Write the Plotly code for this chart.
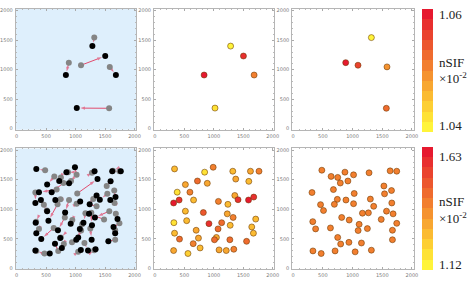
import plotly.graph_objects as go

W, H = 474, 285

# ---------------- data ----------------
# top row: 5 particles (initial -> final), nSIF x1e-2
top_init_x = [1317, 1092, 885, 1580, 1569]
top_init_y = [1544, 1076, 1120, 1048, 347]
top_final_x = [1285, 1503, 835, 1684, 1020]
top_final_y = [1400, 1232, 910, 910, 350]
top_final_nsif = [1.041, 1.058, 1.059, 1.050, 1.042]
top_init_nsif = [1.041, 1.056, 1.060, 1.049, 1.053]
top_range = [1.04, 1.06]

# bottom row: 50 particles, final positions
bot_final_x = [333, 844, 989, 1322, 1622, 1767, 1372, 722, 889, 517,
               1594, 378, 594, 1356, 656, 1078, 317, 411, 1411, 1589,
               1678, 1239, 517, 822, 1228, 1328, 1711, 539, 322, 917,
               1133, 1278, 1072, 700, 1644, 333, 1672, 417, 739, 1044,
               1011, 1272, 1556, 650, 767, 317, 561, 1089, 1211, 1339]
bot_final_y = [1683, 1628, 1711, 1644, 1644, 1644, 1511, 1478, 1439, 1417,
               1472, 1289, 1289, 1233, 1156, 1133, 1106, 1156, 1161, 1156,
               1206, 1083, 967, 944, 922, 861, 833, 806, 772, 756,
               772, 728, 667, 644, 700, 594, 594, 494, 511, 522,
               483, 483, 456, 417, 344, 300, 250, 311, 300, 322]
bot_final_nsif = [1.27, 1.20, 1.40, 1.27, 1.32, 1.40, 1.32, 1.42, 1.33, 1.32,
                  1.27, 1.20, 1.40, 1.31, 1.28, 1.38, 1.60, 1.57, 1.58, 1.59,
                  1.57, 1.28, 1.28, 1.50, 1.30, 1.40, 1.25, 1.27, 1.17, 1.55,
                  1.42, 1.25, 1.42, 1.30, 1.26, 1.28, 1.27, 1.43, 1.30, 1.30,
                  1.42, 1.42, 1.42, 1.40, 1.28, 1.32, 1.21, 1.29, 1.29, 1.40]
# bottom row: initial positions (same particle order)
bot_init_x = [483, 872, 1017, 1278, 1633, 1744, 1028, 750, 922, 639,
              1528, 678, 794, 1300, 744, 1017, 317, 461, 1539, 1661,
              1656, 1356, 511, 889, 1483, 1572, 1683, 694, 330, 944,
              1167, 1267, 1111, 817, 1744, 378, 1672, 628, 750, 939,
              1094, 1250, 1672, 706, 800, 333, 472, 1044, 1150, 1317]
bot_init_y = [1661, 1628, 1583, 1617, 1650, 1644, 1267, 1539, 1478, 1556,
              1394, 1333, 1444, 1172, 1167, 1094, 1283, 1078, 1261, 1106,
              1317, 1050, 978, 1156, 828, 967, 922, 1083, 790, 817,
              933, 939, 744, 861, 761, 667, 644, 683, 522, 439,
              639, 672, 483, 294, 411, 294, 250, 278, 428, 306]
bot_init_nsif = [1.39, 1.40, 1.39, 1.38, 1.40, 1.39, 1.40, 1.39, 1.38, 1.40,
                 1.39, 1.40, 1.39, 1.39, 1.40, 1.38, 1.39, 1.40, 1.39, 1.40,
                 1.39, 1.38, 1.40, 1.39, 1.39, 1.40, 1.38, 1.39, 1.40, 1.39,
                 1.40, 1.39, 1.38, 1.39, 1.40, 1.39, 1.39, 1.40, 1.39, 1.38,
                 1.39, 1.40, 1.39, 1.39, 1.40, 1.39, 1.38, 1.40, 1.39, 1.39]
bot_range = [1.12, 1.63]

tick_vals = [0, 500, 1000, 1500, 2000]
tick_text = ["0", "500", "1000", "1500", "2000"]

# ---------------- style ----------------
band_colors = ["#fff43a", "#fee236", "#fdcf34", "#fbbb32", "#f8a731", "#f59330",
               "#f27f2f", "#ef6b2e", "#ec572e", "#ea432e", "#e82f2f", "#e6192f"]
n = len(band_colors)
stepped = []
for i, c in enumerate(band_colors):
    stepped.append([i / n, c])
    stepped.append([(i + 1) / n, c])

def px_x(p):
    return p / W

def px_y(p):
    return 1 - p / H

col_px = [(15, 137), (155, 277), (295, 418)]
row_px = [(8, 130), (149, 271)]
light_blue = "rgb(222,239,252)"
arrow_red = "#e24c6e"

fig = go.Figure()

axis_common = dict(
    range=[-15, 2030], showgrid=False, zeroline=False,
    showline=True, linecolor="#b5b5b5", linewidth=1, mirror="allticks",
    ticks="inside", ticklen=2, tickcolor="#aaaaaa", tickwidth=0.8,
    tickvals=tick_vals, ticktext=tick_text,
    tickfont=dict(size=5, color="#7a7a7a", family="DejaVu Sans"),
    minor=dict(ticks="inside", ticklen=1, tickcolor="#bbbbbb", dtick=100, tick0=0),
    fixedrange=True,
)

k = 0
for r in range(2):
    for c in range(3):
        k += 1
        xs = "" if k == 1 else str(k)
        x0, x1 = col_px[c]
        y0, y1 = row_px[r]
        fig.layout["xaxis" + xs] = dict(axis_common, domain=[px_x(x0), px_x(x1)],
                                        anchor="y" + xs, ticklabelstandoff=1)
        fig.layout["yaxis" + xs] = dict(axis_common, domain=[px_y(y1), px_y(y0)],
                                        anchor="x" + xs, ticklabelstandoff=1)

shapes = []
for xs in ["", "4"]:
    shapes.append(dict(type="rect", xref="x" + xs + " domain", yref="y" + xs + " domain",
                       x0=0, x1=1, y0=0, y1=1, fillcolor=light_blue,
                       line=dict(width=0), layer="below"))

edge = dict(color="rgba(105,55,0,0.55)", width=1)


def arrow_trace(ix, iy, fx, fy, xs):
    X, Y, sym, size, so = [], [], [], [], []
    for a, b, c2, d in zip(ix, iy, fx, fy):
        X += [a, c2, None]
        Y += [b, d, None]
        sym += ["circle", "arrow", "circle"]
        size += [0, 5, 0]
        so += [0, 3.5, 0]
    return go.Scatter(x=X, y=Y, xaxis="x" + xs, yaxis="y" + xs, mode="lines+markers",
                      line=dict(color=arrow_red, width=1),
                      marker=dict(symbol=sym, size=size, standoff=so, angleref="previous",
                                  color=arrow_red, line=dict(width=0)),
                      hoverinfo="skip", showlegend=False)


# ---- top row ----
fig.add_trace(arrow_trace(top_init_x, top_init_y, top_final_x, top_final_y, ""))
fig.add_trace(go.Scatter(x=top_init_x, y=top_init_y, mode="markers", xaxis="x", yaxis="y",
                         marker=dict(size=6, color="#858585"), showlegend=False))
fig.add_trace(go.Scatter(x=top_final_x, y=top_final_y, mode="markers", xaxis="x", yaxis="y",
                         marker=dict(size=6, color="#000000"), showlegend=False))
fig.add_trace(go.Scatter(x=top_final_x, y=top_final_y, mode="markers", xaxis="x2", yaxis="y2",
                         marker=dict(size=6, color=top_final_nsif, coloraxis="coloraxis", line=edge),
                         showlegend=False))
fig.add_trace(go.Scatter(x=top_init_x, y=top_init_y, mode="markers", xaxis="x3", yaxis="y3",
                         marker=dict(size=6, color=top_init_nsif, coloraxis="coloraxis", line=edge),
                         showlegend=False))
# ---- bottom row ----
fig.add_trace(arrow_trace(bot_init_x, bot_init_y, bot_final_x, bot_final_y, "4"))
fig.add_trace(go.Scatter(x=bot_init_x, y=bot_init_y, mode="markers", xaxis="x4", yaxis="y4",
                         marker=dict(size=6, color="#858585"), showlegend=False))
fig.add_trace(go.Scatter(x=bot_final_x, y=bot_final_y, mode="markers", xaxis="x4", yaxis="y4",
                         marker=dict(size=6, color="#000000"), showlegend=False))
fig.add_trace(go.Scatter(x=bot_final_x, y=bot_final_y, mode="markers", xaxis="x5", yaxis="y5",
                         marker=dict(size=6, color=bot_final_nsif, coloraxis="coloraxis2", line=edge),
                         showlegend=False))
fig.add_trace(go.Scatter(x=bot_init_x, y=bot_init_y, mode="markers", xaxis="x6", yaxis="y6",
                         marker=dict(size=6, color=bot_init_nsif, coloraxis="coloraxis2", line=edge),
                         showlegend=False))

cb_common = dict(thickness=11, thicknessmode="pixels", lenmode="fraction",
                 outlinewidth=0, xpad=0, ypad=0, showticklabels=False, ticks="",
                 x=px_x(426), xanchor="left", yanchor="top")
fig.update_layout(
    coloraxis=dict(colorscale=stepped, cmin=top_range[0], cmax=top_range[1],
                   colorbar=dict(cb_common, y=px_y(8), len=124 / H)),
    coloraxis2=dict(colorscale=stepped, cmin=bot_range[0], cmax=bot_range[1],
                    colorbar=dict(cb_common, y=px_y(148), len=124 / H)),
)

serif = dict(family="Liberation Serif", size=13, color="#222222")
labels = [
    (f"{top_range[1]:.2f}", 14), ("nSIF", 62), ("×10<sup>-2</sup>", 78), (f"{top_range[0]:.2f}", 126),
    (f"{bot_range[1]:.2f}", 157), ("nSIF", 203), ("×10<sup>-2</sup>", 219), (f"{bot_range[0]:.2f}", 266),
]
annotations = []
for t, yp in labels:
    annotations.append(dict(text=t, x=px_x(442), y=px_y(yp), xref="paper", yref="paper",
                            xanchor="left", yanchor="middle", showarrow=False, font=serif))

fig.update_layout(width=W, height=H, margin=dict(l=0, r=0, t=0, b=0),
                  paper_bgcolor="white", plot_bgcolor="white",
                  shapes=shapes, annotations=annotations, showlegend=False)

fig.write_html("out.html", config={"displayModeBar": False})
